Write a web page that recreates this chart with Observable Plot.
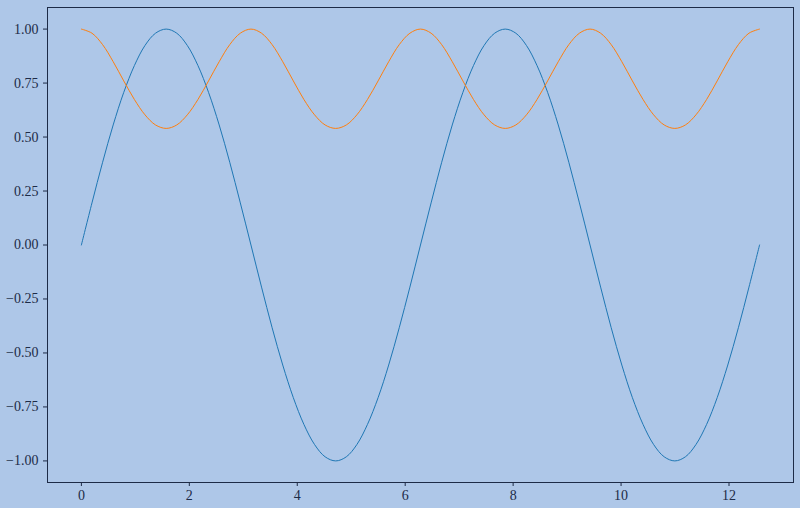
<!DOCTYPE html>
<html><head><meta charset="utf-8">
<script src="https://cdn.jsdelivr.net/npm/d3@7"></script>
<script src="https://cdn.jsdelivr.net/npm/@observablehq/plot@0.6"></script>
<style>
html,body{margin:0;padding:0;background:#aec7e8;}
#chart svg{display:block;}
</style>
</head><body><div id="chart"></div>
<script>
// x positions
const xs = [0,0.196,0.393,0.589,0.785,0.982,1.178,1.374,1.571,1.767,1.963,2.160,2.356,2.553,2.749,2.945,
3.142,3.338,3.534,3.731,3.927,4.123,4.320,4.516,4.712,4.909,5.105,5.301,5.498,5.694,5.890,6.087,
6.283,6.480,6.676,6.872,7.069,7.265,7.461,7.658,7.854,8.050,8.247,8.443,8.639,8.836,9.032,9.228,
9.425,9.621,9.817,10.014,10.210,10.407,10.603,10.799,10.996,11.192,11.388,11.585,11.781,11.977,12.174,12.370,12.566];
// blue series
const blueVals = [0,0.195,0.383,0.556,0.707,0.831,0.924,0.981,1.000,0.981,0.924,0.831,0.707,0.556,0.383,0.195,
0,-0.195,-0.383,-0.556,-0.707,-0.831,-0.924,-0.981,-1.000,-0.981,-0.924,-0.831,-0.707,-0.556,-0.383,-0.195,
0,0.195,0.383,0.556,0.707,0.831,0.924,0.981,1.000,0.981,0.924,0.831,0.707,0.556,0.383,0.195,
0,-0.195,-0.383,-0.556,-0.707,-0.831,-0.924,-0.981,-1.000,-0.981,-0.924,-0.831,-0.707,-0.556,-0.383,-0.195,0];
// orange series
const orangeVals = [1,0.981,0.928,0.849,0.760,0.674,0.603,0.556,0.540,0.556,0.603,0.674,0.760,0.849,0.928,0.981,
1,0.981,0.928,0.849,0.760,0.674,0.603,0.556,0.540,0.556,0.603,0.674,0.760,0.849,0.928,0.981,
1,0.981,0.928,0.849,0.760,0.674,0.603,0.556,0.540,0.556,0.603,0.674,0.760,0.849,0.928,0.981,
1,0.981,0.928,0.849,0.760,0.674,0.603,0.556,0.540,0.556,0.603,0.674,0.760,0.849,0.928,0.981,1];
const xTicks = [0,2,4,6,8,10,12];
const yTicks = [-1,-0.75,-0.5,-0.25,0,0.25,0.5,0.75,1];

const blue = xs.map((x,i)=>({x, y: blueVals[i]}));
const orange = xs.map((x,i)=>({x, y: orangeVals[i]}));
const ink = "#1d2b47";
const fmt = v => (v<0?"\u2212":"") + Math.abs(v).toFixed(2);

const chart = Plot.plot({
  width: 800, height: 508,
  marginLeft: 47, marginRight: 7, marginTop: 7, marginBottom: 26,
  style: {background: "#aec7e8", fontFamily: "Liberation Serif, serif", fontSize: "14px", color: ink},
  x: {domain: [-0.628, 13.195]},
  y: {domain: [-1.1, 1.1]},
  marks: [
    Plot.line(blue, {x: "x", y: "y", stroke: "#1f77b4", strokeWidth: 1, curve: "catmull-rom"}),
    Plot.line(orange, {x: "x", y: "y", stroke: "#ff7f0e", strokeWidth: 1, curve: "catmull-rom"}),
    Plot.frame({stroke: ink, strokeWidth: 1, strokeOpacity: 1}),
    Plot.axisX({ticks: xTicks, tickSize: 4, tickPadding: 4, label: null, stroke: ink, fill: ink, strokeOpacity: 1, fontSize: 14}),
    Plot.axisY({ticks: yTicks, tickSize: 4, tickPadding: 5, label: null, tickFormat: fmt, stroke: ink, fill: ink, strokeOpacity: 1, fontSize: 14})
  ]
});
document.getElementById("chart").appendChild(chart);
</script>
</body></html>
